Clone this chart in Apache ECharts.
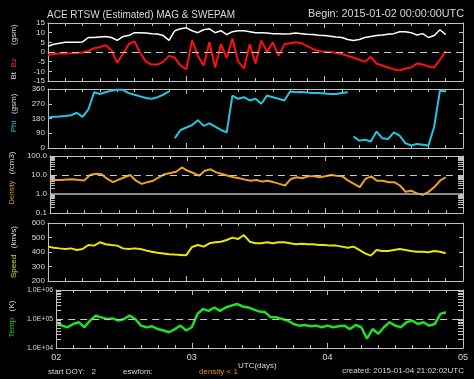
<!DOCTYPE html>
<html><head><meta charset="utf-8">
<script src="https://cdn.jsdelivr.net/npm/echarts@6/dist/echarts.min.js"></script>
<style>html,body{margin:0;padding:0;background:#000;}#c{width:474px;height:379px;}</style>
</head><body><div id="c"></div>
<script>
// hours since 2015-01-02 00:00 UTC
const hours = [0,1,2,3,4,5,6,7,8,9,10,11,12,13,14,15,16,17,18,19,20,21,22,23,24,25,26,27,28,29,30,31,32,33,34,35,36,37,38,39,40,41,42,43,44,45,46,47,48,49,50,51,52,53,54,55,56,57,58,59,60,61,62,63,64,65,66,67,68,69];
const bt = [3,4,4.5,5,5,5,5.2,7.5,7.5,7.8, 8,7.5,6,8,8.5,10,10,9.8,9.5,9.3, 8.5,6,11,12,12.5,11,10,11.5,12,10, 11,9,10.5,11,11,10.5,10,10,9.8,9.5, 9.5,9.3,9.5,9.8,9.5,9.2,9,8.7,8.5,8.2, 7.8,7.5,6.5,6,6.5,7.5,8,8.5,8.8,9.2, 9.5,10.5,10.5,10,8.8,9.5,7.5,8.5,11.5,9];
const bz = [-1.5,-1,-0.8,-0.8,-0.7,-0.5,-0.3,0.5,2,2.5, 3.5,1,-5.5,-1,4,5.5,-0.5,-5,-6.5,-6.5, -5,-2,-3,-7,-9,6,-2,-7,5,-8, 4,-3,7,-5,-8.5,4,-6,6,0,5, -2,4,4.5,5,4.5,3,1.5,0.5,0,0, -0.5,-1,-2,-3,-4,-5,-2.5,-6,-7,-8, -9,-9.5,-8.5,-8,-6,-6.5,-7.5,-8,-4,0.5];
const phi = [185,190,192,195,200,215,190,235,340,330, 340,350,355,355,335,325,315,305,300,310, 325,345,60,110,125,140,170,135,150,130, 110,95,320,300,310,290,300,270,320,310, 300,290,345,340,342,338,335,335,332,330, 330,335,340,70,45,50,40,100,60,55, 95,75,30,15,25,20,15,130,350,345];
const phiWraps = [21,52]; // hours after which phi wraps around 0/360
const density = [5,5.5,5.5,5.8,6,5.5,5.2,10,11.5,11, 6.2,4.2,5.7,7.6,10,5,3.4,4.2,5,7.6, 11,12.7,14.9,25,16.7,12.7,9.2,16.7,20,13.7, 11.3,9.2,7.6,6.7,5.7,5,5.5,4.5,5,4.2, 3.4,2.8,6.2,7.6,6.7,8.5,8.5,7.6,8.5,10, 9.2,8.5,5,3.4,2.3,6.2,8.5,5,5,4.2, 4.2,2.8,1.3,1.5,1.05,0.9,1.3,2.3,5,7.6];
const speed = [437,430,425,421,425,414,421,448,444,467, 453,448,444,425,421,425,421,411,402,395, 390,385,382,380,378,435,448,437,460,467, 471,483,499,490,517,471,460,460,467,460, 467,467,460,453,457,453,453,448,448,444, 444,437,430,437,414,391,375,414,407,407, 414,421,414,407,402,402,398,407,402,391];
const temp = [7.7e4,5.9e4,5.2e4,6.7e4,7.7e4,5.2e4,8.8e4,1.3e5,1.14e5,1e5, 1.05e5,8.8e4,1e5,1.3e5,1e5,5.9e4,5.2e4,5.6e4,4.5e4,4e4, 3.5e4,4.5e4,5.9e4,4e4,5.2e4,1.5e5,2.2e5,1.9e5,2.5e5,1.9e5, 2.5e5,2.9e5,3.3e5,2.7e5,2.5e5,2.1e5,1.8e5,1.7e5,1.14e5,1.14e5, 1e5,8.8e4,6.7e4,5.9e4,6.2e4,5.6e4,5.9e4,5.2e4,5.9e4,5.2e4, 5.6e4,5.9e4,4.5e4,6.2e4,5.2e4,2.1e4,4.5e4,3.1e4,5.2e4,7.7e4, 5.9e4,5.2e4,7.7e4,8.8e4,6.7e4,7.7e4,5.9e4,6.7e4,1.5e5,1.7e5];
const dayTicks = ['02','03','04','05'];
const densityMinor = [0.2,0.3,0.4,0.5,0.6,0.7,0.8,0.9,2,3,4,5,6,7,8,9,20,30,40,50,60,70,80,90];
const tempMinor = [2e4,3e4,4e4,5e4,6e4,7e4,8e4,9e4,2e5,3e5,4e5,5e5,6e5,7e5,8e5,9e5];

const FONT = '"Liberation Sans", Arial, sans-serif';
const FG = '#d8d8d8';
const FRAME = '#c0c0c0';
const toDay = h => 2 + h / 24;
const pairs = arr => hours.map((h, i) => [toDay(h), arr[i]]);
function phiPairs() {
  const out = [];
  hours.forEach((h, i) => {
    out.push([toDay(h), phi[i]]);
    if (phiWraps.includes(h)) out.push([toDay(h + 0.5), '-']);
  });
  return out;
}

const grids = [
  {left: 48, right: 11, top: 23, height: 58},
  {left: 48, right: 11, top: 89, height: 59},
  {left: 48, right: 11, top: 156, height: 57},
  {left: 48, right: 11, top: 223, height: 58},
  {left: 48, right: 11, top: 290, height: 58}
];

const xAxes = [];
grids.forEach((g, i) => {
  ['bottom', 'top'].forEach(pos => {
    xAxes.push({
      type: 'value', gridIndex: i, min: 2, max: 5, interval: 1, position: pos,
      axisLine: {onZero: false, lineStyle: {color: FRAME, width: 1}},
      axisTick: {inside: true, length: 5, lineStyle: {color: FRAME}},
      minorTick: {show: true, splitNumber: 8, length: 3, lineStyle: {color: FRAME}},
      splitLine: {show: false}, minorSplitLine: {show: false},
      axisLabel: {show: i === 4 && pos === 'bottom', color: FG, fontFamily: FONT, fontSize: 9, margin: 5,
        formatter: v => dayTicks[Math.round(v) - 2]}
    });
  });
});

const yDefs = [
  {type: 'value', min: -15, max: 15, interval: 5, name: '{w|Bt}  {r|Bz}      {w|(gsm)}', fmt: v => String(v)},
  {type: 'value', min: 0, max: 360, interval: 90, name: '     {c|Phi}   {w|(gsm)}', fmt: v => String(v)},
  {type: 'log', min: 0.1, max: 100, name: '      {o|Density}   {w|(/cm3)}', fmt: v => v.toFixed(1)},
  {type: 'value', min: 200, max: 600, interval: 100, name: '{y|Speed}   {w|(km/s)}', fmt: v => String(v)},
  {type: 'log', min: 1e4, max: 1e6, name: '{g|Temp}   {w|(K)}', fmt: v => '1.0E+0' + Math.round(Math.log10(v)), tiny: true}
];
const rich = {
  w: {color: FG, fontSize: 8, fontFamily: FONT},
  r: {color: '#ff2020', fontSize: 8, fontFamily: FONT},
  c: {color: '#20c8e0', fontSize: 8, fontFamily: FONT},
  o: {color: '#e09020', fontSize: 7, fontFamily: FONT},
  y: {color: '#e0e000', fontSize: 8, fontFamily: FONT},
  g: {color: '#20d020', fontSize: 8, fontFamily: FONT}
};
const yAxes = [];
yDefs.forEach((d, i) => {
  ['left', 'right'].forEach(pos => {
    const ax = {
      type: d.type, gridIndex: i, min: d.min, max: d.max, position: pos,
      axisLine: {show: true, onZero: false, lineStyle: {color: FRAME, width: 1}},
      axisTick: {show: true, inside: true, length: 4, lineStyle: {color: FRAME}},
      splitLine: {show: false},
      axisLabel: {show: pos === 'left', color: FG, fontFamily: FONT, fontSize: d.tiny ? 7 : 8, margin: 3, formatter: d.fmt}
    };
    if (d.type === 'log') ax.logBase = 10;
    else ax.interval = d.interval;
    if (pos === 'left') {
      ax.name = d.name; ax.nameLocation = 'middle'; ax.nameRotate = 90; ax.nameGap = 30;
      ax.nameTextStyle = {rich: rich, color: FG, fontSize: 8, fontFamily: FONT};
    }
    yAxes.push(ax);
  });
});

const dashStyle = {color: '#c8c8c8', type: [7, 5], width: 1};
function ml(vals) {
  return {silent: true, symbol: 'none', label: {show: false},
    data: vals.map(v => ({yAxis: v[0], lineStyle: v[1]}))};
}
function minorTicks(gi, values) {
  return {
    type: 'custom', xAxisIndex: gi * 2, yAxisIndex: gi * 2, silent: true, z: 5,
    data: values.map(v => [2, v]),
    renderItem: (params, api) => {
      const p = api.coord([api.value(0), api.value(1)]);
      const cs = params.coordSys;
      const y = Math.round(p[1]) + 0.5, L = 5;
      return {type: 'group', children: [
        {type: 'line', shape: {x1: cs.x, y1: y, x2: cs.x + L, y2: y}, style: {stroke: FRAME, lineWidth: 1}},
        {type: 'line', shape: {x1: cs.x + cs.width - L, y1: y, x2: cs.x + cs.width, y2: y}, style: {stroke: FRAME, lineWidth: 1}}
      ]};
    }
  };
}
const line = (gi, data, color, w, extra) => Object.assign({
  type: 'line', xAxisIndex: gi * 2, yAxisIndex: gi * 2, data: data, showSymbol: false,
  lineStyle: {color: color, width: w}, itemStyle: {color: color}, silent: true, connectNulls: false
}, extra || {});

const series = [
  line(0, pairs(bt), '#ffffff', 1.5),
  line(0, pairs(bz), '#ff1010', 2, {markLine: ml([[0, dashStyle]])}),
  line(1, phiPairs(), '#20c8e0', 2),
  line(2, pairs(density), '#f0a020', 2, {markLine: ml([[10, dashStyle], [1, {color: '#b8b8b8', type: 'solid', width: 1.5}]])}),
  minorTicks(2, densityMinor),
  line(3, pairs(speed), '#e8e800', 2),
  line(4, pairs(temp), '#20e020', 2.5, {markLine: ml([[1e5, dashStyle]])}),
  minorTicks(4, tempMinor)
];

const txt = (o, text, fill, size) => Object.assign({type: 'text', style: {text: text, fill: fill || FG, font: (size || 8) + 'px ' + FONT}}, o);
const chart = echarts.init(document.getElementById('c'), null, {renderer: 'canvas'});
chart.setOption({
  backgroundColor: '#000', animation: false,
  grid: grids, xAxis: xAxes, yAxis: yAxes, series: series,
  graphic: [
    txt({left: 47, top: 10}, 'ACE RTSW (Estimated) MAG & SWEPAM', FG, 10),
    txt({right: 10, top: 9}, 'Begin: 2015-01-02 00:00:00UTC', FG, 10.8),
    txt({left: 238, top: 362}, 'UTC(days)', FG, 8),
    txt({left: 48, top: 368}, 'start DOY:   2', FG, 8),
    txt({left: 123, top: 368}, 'eswfom:', FG, 8),
    txt({left: 199, top: 368}, 'density < 1', '#e09020', 8),
    txt({right: 10, top: 367}, 'created: 2015-01-04 21:02:02UTC', FG, 8)
  ]
});
</script></body></html>
